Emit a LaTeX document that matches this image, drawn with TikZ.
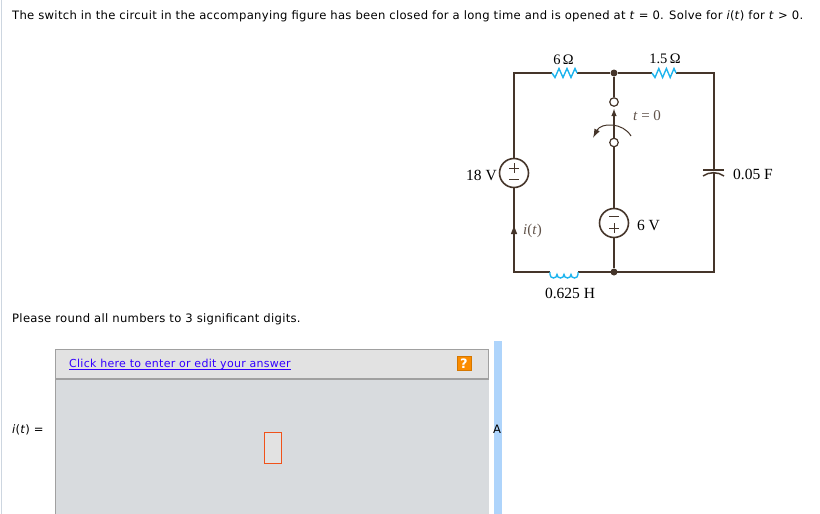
\documentclass[tikz,border=0pt]{standalone}
\usepackage{fontspec}
\setmainfont[LetterSpace=2.6]{DejaVu Sans}
\newfontfamily\figfont{Liberation Serif}
\usetikzlibrary{arrows.meta,calc}
\definecolor{wire}{HTML}{45352A}
\definecolor{zig}{HTML}{1DB4EE}
\definecolor{headgray}{HTML}{E2E2E2}
\definecolor{bodygray}{HTML}{D8DBDE}
\definecolor{edgegray}{HTML}{A0A0A0}
\definecolor{barblue}{HTML}{AED4FB}
\definecolor{pagerule}{HTML}{CDD6E0}
\definecolor{linkblue}{HTML}{3300FF}
\definecolor{boxorange}{HTML}{F0521A}
\definecolor{helporange}{HTML}{FB8C00}
\tikzset{
  wireline/.style={draw=wire,line width=2pt},
  txt/.style={inner sep=0pt,anchor=base west,font=\fontsize{11.6}{13}\selectfont},
  fig/.style={inner sep=0pt,anchor=base,font=\figfont\fontsize{15.5}{17}\selectfont},
  figsmall/.style={inner sep=0pt,anchor=base,text=wire!85,font=\figfont\fontsize{15}{17}\selectfont},
  contact/.style={circle,draw=wire,line width=1.2pt,fill=white,minimum size=8.5pt,inner sep=0pt},
  source/.style={circle,draw=wire,line width=1.6pt,fill=white,minimum size=29pt,inner sep=0pt},
  junction/.style={circle,fill=wire,minimum size=7pt,inner sep=0pt},
  zigline/.style={draw=zig,line width=1.4pt}
}
\begin{document}
\begin{tikzpicture}[x=1pt,y=-1pt]
  \useasboundingbox (0,0) rectangle (820,514);

  % page and answer panel
  \fill[pagerule] (0.5,0) rectangle (2,514);
  \fill[bodygray] (55,379) rectangle (489,514);
  \fill[headgray] (55,349) rectangle (489,379);
  \draw[edgegray,line width=1.2pt] (55.5,514) -- (55.5,349.5) -- (488.5,349.5) -- (488.5,379) -- (55.5,379);
  \fill[barblue] (494,341) rectangle (502,514);
  \node[fill=headgray,draw=boxorange,line width=.9pt,minimum width=17pt,minimum height=31pt,inner sep=0pt] (answerbox) at (273,447.5) {};
  \node[fill=helporange,draw=helporange!85!black,line width=.7pt,minimum size=14pt,inner sep=0pt,text=white,font=\bfseries\fontsize{13}{13}\selectfont] (help) at (464,363.5) {?};

  % text
  \node[txt] (question) at (12,19.5) {The switch in the circuit in the accompanying figure has been closed for a long time and is opened at \textit{t} = 0. Solve for \textit{i}(\textit{t}) for \textit{t} > 0.};
  \node[txt] (round) at (12,322) {Please round all numbers to 3 significant digits.};
  \node[txt] (answerlabel) at (12,433) {\textit{i}(\textit{t}) =};
  \node[txt,text=linkblue,font=\fontsize{11}{13}\selectfont] (link) at (69,367) {Click here to enter or edit your answer};
  \draw[linkblue,line width=.8pt] ($(link.base west)+(0,2.5)$) -- ($(link.base east)+(0,2.5)$);
  \node[txt] (letter) at (493,433) {A};

  % circuit nodes
  \begin{scope}[every node/.style={junction}]
    \node (top)    at (614,73)  {};
    \node (bottom) at (614,272) {};
  \end{scope}
  \coordinate (tl) at (514,73);
  \coordinate (tr) at (714,73);
  \coordinate (bl) at (514,272);
  \coordinate (br) at (714,272);
  \coordinate (r1a) at (552,73);
  \coordinate (r1b) at (577,73);
  \coordinate (r2a) at (652,73);
  \coordinate (r2b) at (676,73);
  \coordinate (la) at (550,272);
  \coordinate (lb) at (578,272);
  \coordinate (capa) at (714,170);
  \coordinate (capb) at (714,173);
  \coordinate (iarrow) at (514,230);
  \node[source] (vs1) at (514,173) {};
  \node[source] (vs2) at (614,223) {};
  \node[contact] (sw1) at (614,102) {};
  \node[contact] (sw2) at (614,142.5) {};

  % wires
  \begin{scope}[every path/.style={wireline}]
    \path (vs1) -- (tl) -- (r1a);
    \path (r1b) -- (top) -- (r2a);
    \path (r2b) -- (tr) -- (capa);
    \path (capb) -- (br) -- (lb);
    \path (la) -- (bl) -- (vs1);
    \path (lb) -- (bottom);
    \path (top) -- (sw1);
    \path (sw2) -- (vs2);
    \path (vs2) -- (bottom);
  \end{scope}

  % resistors and inductor
  \path[zigline] (r1a) -- ++(3,4.5) -- ++(4,-9) -- ++(4,9) -- ++(4,-9) -- ++(4,9) -- ++(4,-9) -- (r1b);
  \path[zigline] (r2a) -- ++(3,4.5) -- ++(3.8,-9) -- ++(3.8,9) -- ++(3.8,-9) -- ++(3.8,9) -- ++(3.8,-9) -- (r2b);
  \draw[zigline] (la) -- ++(0,2.5) arc[start angle=180,end angle=360,x radius=3.5,y radius=-3.5]
    arc[start angle=180,end angle=360,x radius=3.5,y radius=-3.5]
    arc[start angle=180,end angle=360,x radius=3.5,y radius=-3.5]
    arc[start angle=180,end angle=360,x radius=3.5,y radius=-3.5] -- (lb);

  % capacitor
  \draw[wire,line width=1.5pt] (703,170) -- (724,170);
  \draw[wire,line width=1.5pt] (703,176) .. controls (709,171.6) and (718,171.6) .. (724,176);

  % switch
  \draw[wire,line width=1.6pt,-{Latex[length=8pt,width=5.5pt]}] (sw2) -- (614,108);
  \draw[wire,line width=1pt,{Latex[length=9pt,width=6pt]}-] (593,138) .. controls (601,122.3) and (623,122.3) .. (631,136);

  % source signs and current arrow
  \draw[wire,line width=1pt] (509,168) -- (519,168) (514,163) -- (514,173) (509,179) -- (519,179);
  \draw[wire,line width=1pt] (609,216) -- (619,216) (609,228) -- (619,228) (614,223) -- (614,233);
  \fill[wire] (iarrow) ++(-3.2,4) -- ++(3.2,-8) -- ++(3.2,8) -- cycle;

  % labels
  \node[fig,font=\figfont\fontsize{14.5}{17}\selectfont] (lr1) at (563.5,64) {6\,Ω};
  \node[fig,font=\figfont\fontsize{14.5}{17}\selectfont] (lr2) at (665,63) {1.5\,Ω};
  \node[fig] (lvs1) at (481.5,180) {18 V};
  \node[fig] (lvs2) at (648.5,230) {6 V};
  \node[fig] (ll) at (570,298) {0.625 H};
  \node[fig] (lc) at (753,179) {0.05 F};
  \node[figsmall] (lt) at (647,120.5) {\textit{t} = 0};
  \node[figsmall] (li) at (532.5,234) {\textit{i}(\textit{t})};
\end{tikzpicture}
\end{document}
